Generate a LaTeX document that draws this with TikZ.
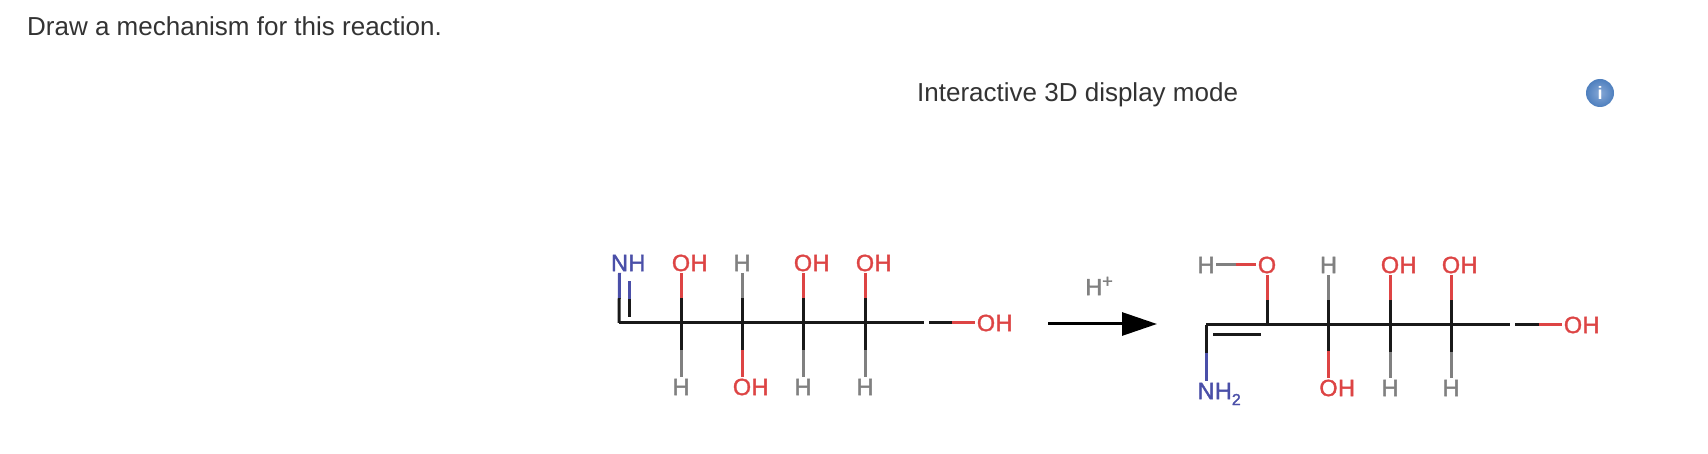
\documentclass[tikz,border=0pt]{standalone}
\usepackage{fontspec}
\setmainfont{Liberation Sans}
\newfontfamily\atomfont[FakeBold=1.5]{Liberation Sans}
\usetikzlibrary{positioning,calc,arrows.meta}
\definecolor{oxred}{HTML}{DD4444}
\definecolor{nblue}{HTML}{4A4FA8}
\definecolor{hgray}{HTML}{808080}
\definecolor{txtgray}{HTML}{333333}
\definecolor{iconin}{HTML}{86A8D6}
\definecolor{iconout}{HTML}{4E7FBE}
\tikzset{
	atom/.style={inner sep=1.5pt,font=\atomfont\fontsize{23.5}{26}\selectfont},
	oxy/.style={atom,text=oxred},
	nit/.style={atom,text=nblue},
	hyd/.style={atom,text=hgray},
	bond/.style={line width=3pt,black!90},
	caption/.style={inner sep=0pt,anchor=base west,text=txtgray,font=\fontsize{26}{30}\selectfont},
	infoicon/.style={circle,minimum size=28pt,inner sep=0pt,inner color=iconin,outer color=iconout,text=white,font=\bfseries\fontsize{18}{18}\selectfont}
}
\newcommand{\halfbond}[3]{
	\draw[bond] (#1) -- ($(#1)!.5!(#2)$);
	\draw[bond,#3] ($(#1)!.5!(#2)$) -- (#2);
}
\begin{document}
\begin{tikzpicture}[x=1pt,y=-1pt]
\path[use as bounding box,fill=white] (0,0) rectangle (1708,454);

\node[caption] (question) at (27,36) {Draw a mechanism for this reaction.};
\node[caption] (mode) at (917,102) {Interactive 3D display mode};
\node[infoicon] (info) at (1600,93) {i};

% left molecule
\coordinate (a0) at (619,323);
\coordinate (a1) at (681,323);
\coordinate (a2) at (742,323);
\coordinate (a3) at (803,323);
\coordinate (a4) at (865,323);
\coordinate (a5) at (924,323);
\coordinate (a6) at (929,323);
\coordinate (a0i) at (629,317);
\coordinate (a0j) at (629,281);
\node[nit] (aN) at (619.5,263) {N};
\node[nit,right=-3pt of aN] (aNH) {H};
\node[oxy] (aO1) at (681,263) {O};
\node[oxy,right=-3pt of aO1] (aO1H) {H};
\node[hyd] (aH2) at (742,263) {H};
\node[oxy] (aO3) at (803,263) {O};
\node[oxy,right=-3pt of aO3] (aO3H) {H};
\node[oxy] (aO4) at (865,263) {O};
\node[oxy,right=-3pt of aO4] (aO4H) {H};
\node[hyd] (aH1) at (681,387) {H};
\node[oxy] (aO2) at (742,387) {O};
\node[oxy,right=-3pt of aO2] (aO2H) {H};
\node[hyd] (aH3) at (803,387) {H};
\node[hyd] (aH4) at (865,387) {H};
\node[oxy] (aO5) at (986,323) {O};
\node[oxy,right=-3pt of aO5] (aO5H) {H};
\draw[bond,line join=miter] (a0) -- (a5);
\draw[bond] (a6) -- ($(a6)!.5!(aO5.west)$);
\draw[bond,oxred] ($(a6)!.5!(aO5.west)$) -- (aO5.west);
\halfbond{a0}{aN.south}{nblue}
\halfbond{a0i}{a0j}{nblue}
\halfbond{a1}{aO1.south}{oxred}
\halfbond{a2}{aH2.south}{hgray}
\halfbond{a3}{aO3.south}{oxred}
\halfbond{a4}{aO4.south}{oxred}
\halfbond{a1}{aH1.north}{hgray}
\halfbond{a2}{aO2.north}{oxred}
\halfbond{a3}{aH3.north}{hgray}
\halfbond{a4}{aH4.north}{hgray}

% reaction arrow
\coordinate (arrowstart) at (1048,324);
\coordinate (arrowend) at (1157,324);
\draw[line width=3pt,black,-{Triangle[length=35pt,width=23pt]}] (arrowstart) -- (arrowend);
\node[hyd] (proton) at (1099,286) {H\raisebox{8pt}{\fontsize{18}{18}\selectfont +}};

% right molecule
\coordinate (b0) at (1206,325);
\coordinate (b1) at (1267,325);
\coordinate (b2) at (1328.5,325);
\coordinate (b3) at (1390,325);
\coordinate (b4) at (1451,325);
\coordinate (b5) at (1510,325);
\coordinate (b6) at (1515,325);
\coordinate (b0i) at (1213,334);
\coordinate (b1i) at (1261,334);
\node[hyd] (bHO) at (1206,265) {H};
\node[oxy] (bO1) at (1267,265) {O};
\node[hyd] (bH2) at (1328.5,265) {H};
\node[oxy] (bO3) at (1390,265) {O};
\node[oxy,right=-3pt of bO3] (bO3H) {H};
\node[oxy] (bO4) at (1451,265) {O};
\node[oxy,right=-3pt of bO4] (bO4H) {H};
\node[nit] (bN) at (1206,391) {N};
\node[nit,text depth=0pt,right=-3pt of bN] (bNH) {H\raisebox{-6pt}{\fontsize{16}{16}\selectfont 2}};
\node[oxy] (bO2) at (1328.5,388) {O};
\node[oxy,right=-3pt of bO2] (bO2H) {H};
\node[hyd] (bH3) at (1390,388) {H};
\node[hyd] (bH4) at (1451,388) {H};
\node[oxy] (bO5) at (1573,325) {O};
\node[oxy,right=-3pt of bO5] (bO5H) {H};
\draw[bond,line join=miter] (b0) -- (b5);
\draw[bond] (b0i) -- (b1i);
\draw[bond] (b6) -- ($(b6)!.5!(bO5.west)$);
\draw[bond,oxred] ($(b6)!.5!(bO5.west)$) -- (bO5.west);
\halfbond{b0}{bN.north}{nblue}
\halfbond{b1}{bO1.south}{oxred}
\draw[bond,hgray] (bHO.east) -- ($(bHO.east)!.5!(bO1.west)$);
\draw[bond,oxred] ($(bHO.east)!.5!(bO1.west)$) -- (bO1.west);
\halfbond{b2}{bH2.south}{hgray}
\halfbond{b3}{bO3.south}{oxred}
\halfbond{b4}{bO4.south}{oxred}
\halfbond{b2}{bO2.north}{oxred}
\halfbond{b3}{bH3.north}{hgray}
\halfbond{b4}{bH4.north}{hgray}
\end{tikzpicture}
\end{document}
